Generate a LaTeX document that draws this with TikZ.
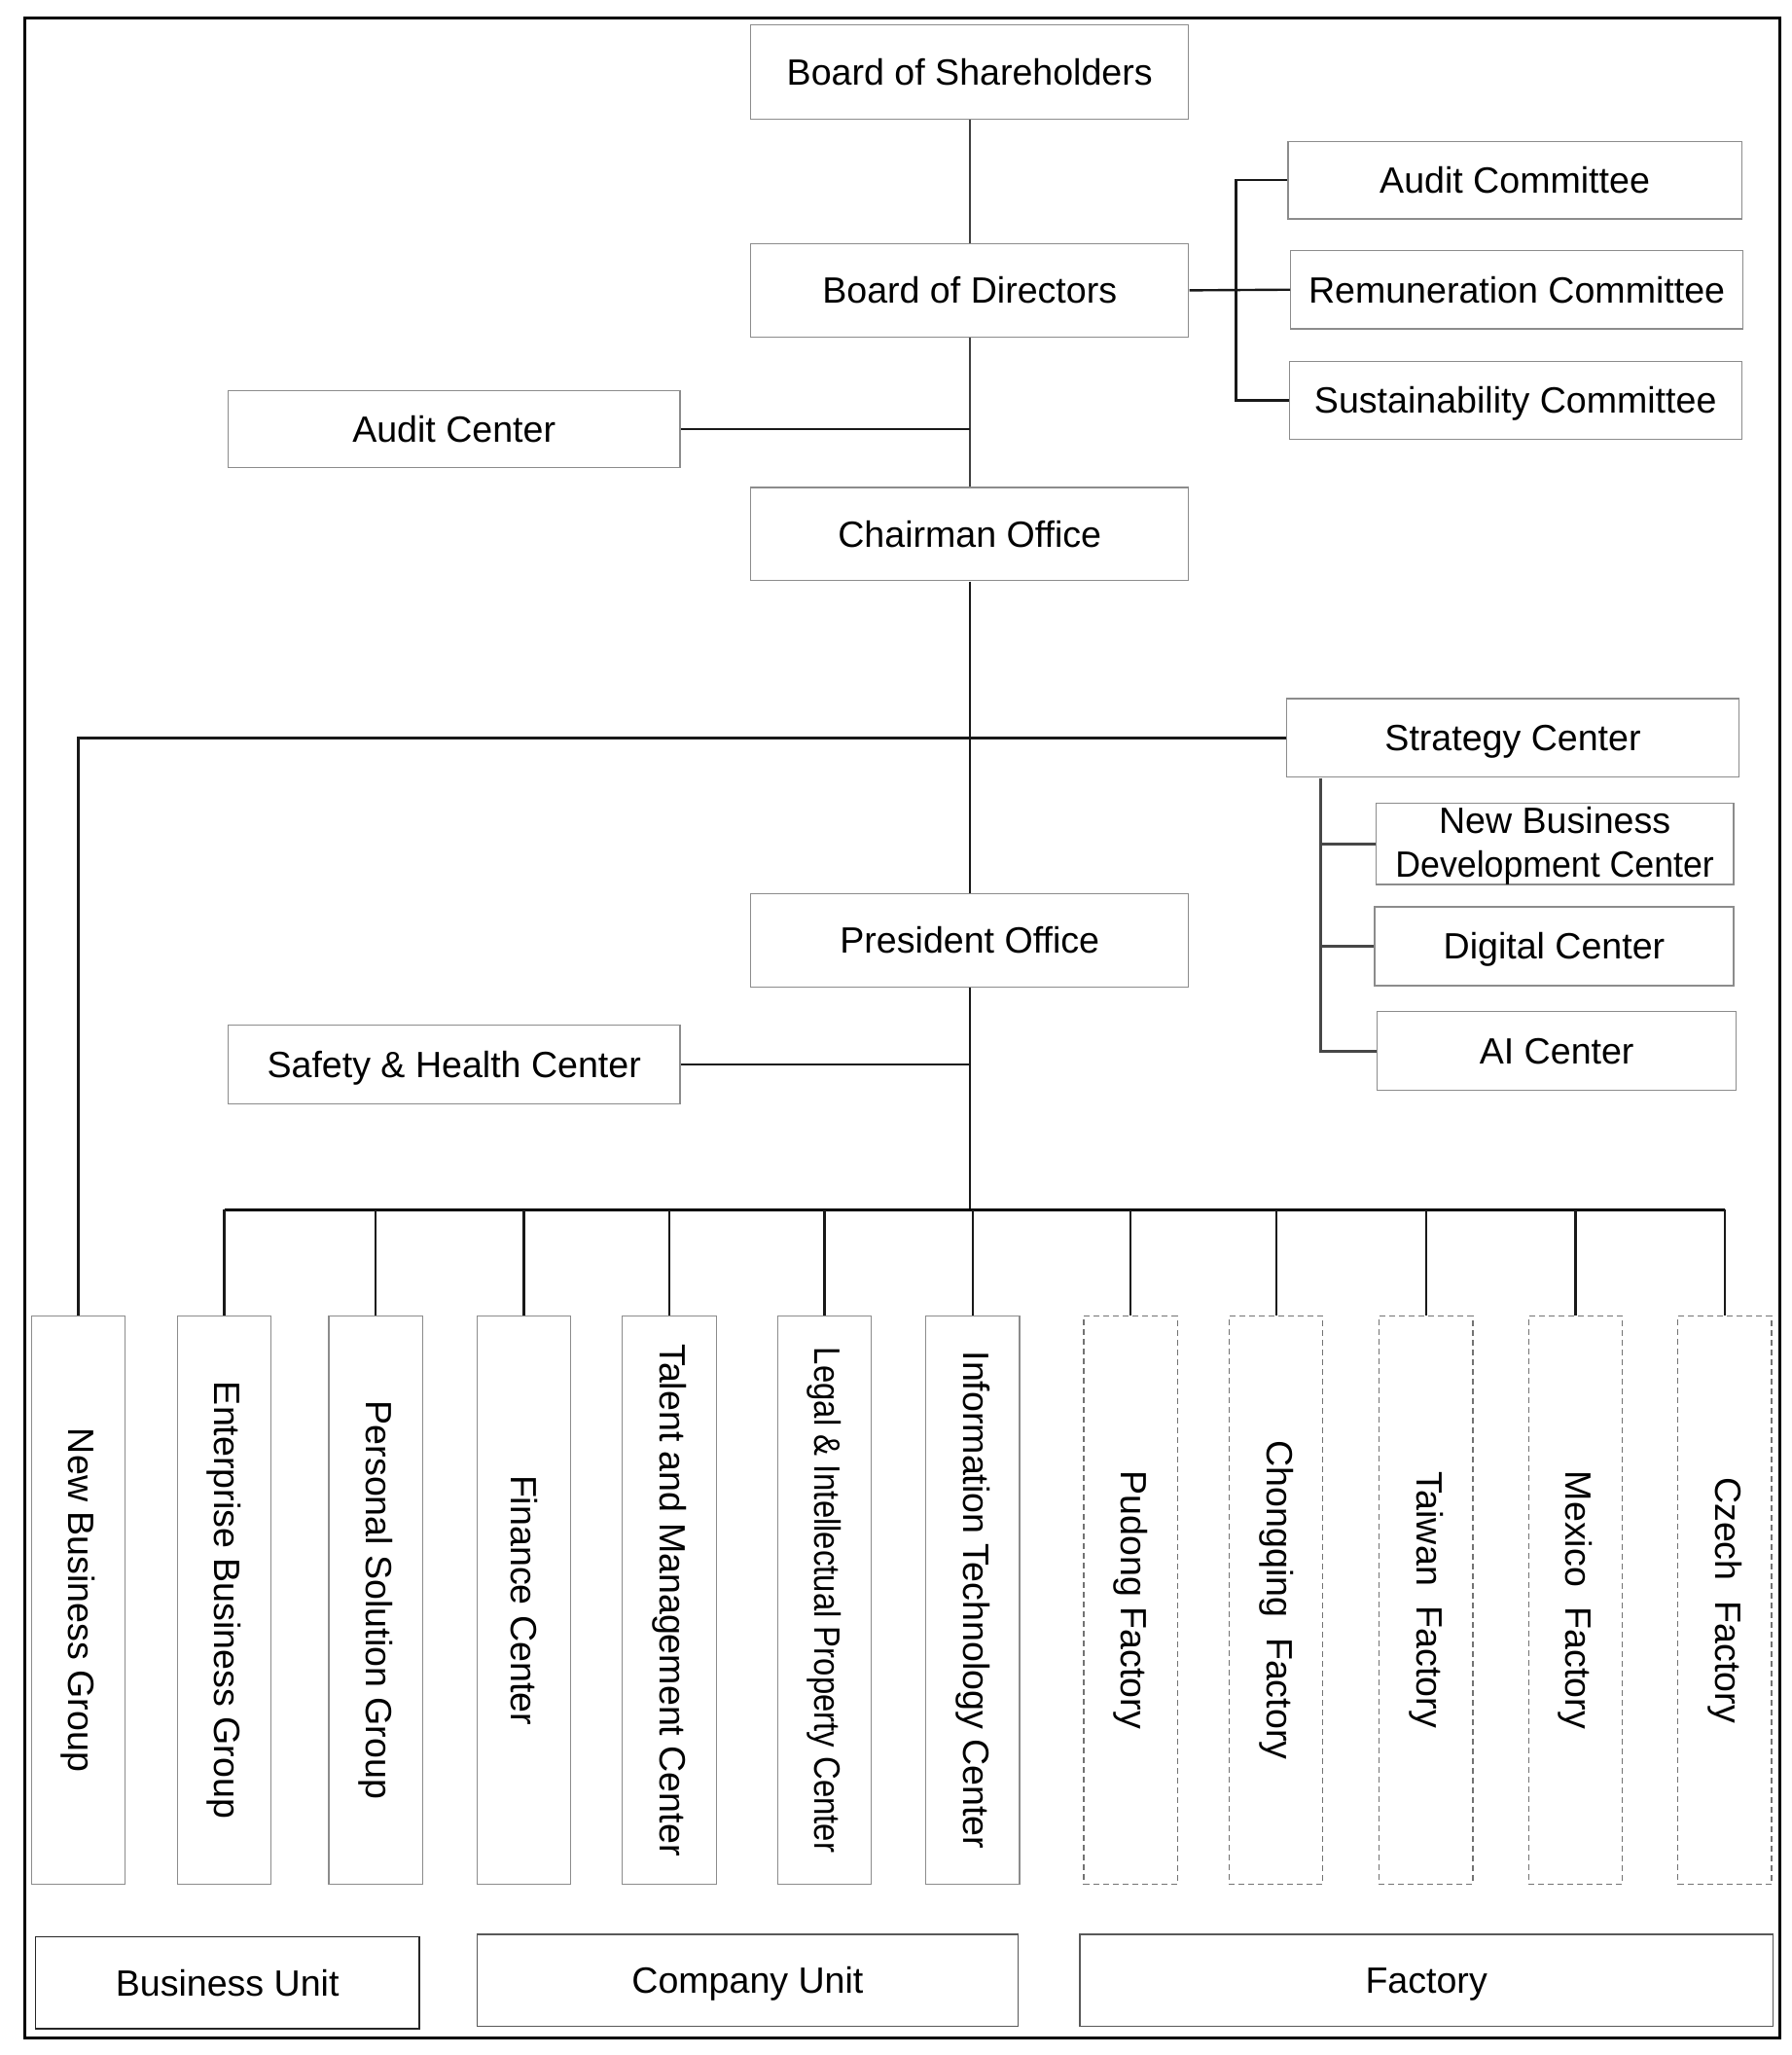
\documentclass[tikz,border=0pt]{standalone}
\usepackage{fontspec}
\setmainfont{Liberation Sans}
\begin{document}
\begin{tikzpicture}[x=1pt,y=-1pt,scale=1.347,transform shape,
  every node/.style={font=\fontsize{27.9pt}{33pt}\selectfont, inner sep=0pt, text=black},
  hbox/.style={draw=black!45, line width=1.2pt, fill=white, align=center, text height=20pt, text depth=0pt},
  vbox/.style={draw=black!45, line width=1.2pt, fill=white, minimum width=71.5pt, minimum height=433.5pt},
  fbox/.style={draw=black!55, line width=1.2pt, dash pattern=on 6pt off 4pt, fill=white, minimum width=71.5pt, minimum height=433.5pt},
  lbox/.style={draw=black!65, line width=1.3pt, fill=white, minimum height=70pt, text height=20pt, text depth=0pt},
  vtext/.style={rotate=-90, anchor=center},
  conn/.style={line width=2.4pt, draw=black!90},
  trunk/.style={line width=2.2pt, draw=black!75},
  subconn/.style={line width=3pt, draw=black!72}]
\useasboundingbox (0,0) rectangle (1367.5,1568);
\draw[line width=3.2pt] (19,14) rectangle (1358,1555);

% top column
\node[hbox, minimum width=334pt, minimum height=72pt] (bos) at (740,55) {Board of Shareholders};
\node[hbox, minimum width=334pt, minimum height=71pt] (bod) at (740,221.5) {Board of Directors};
\node[hbox, minimum width=346pt, minimum height=59pt] (ac) at (1156,137.5) {Audit Committee};
\node[hbox, minimum width=345pt, minimum height=60pt] (rc) at (1157.5,221) {Remuneration Committee};
\node[hbox, minimum width=345pt, minimum height=59pt] (sc) at (1156.5,305.5) {Sustainability Committee};
\node[hbox, minimum width=345pt, minimum height=59pt] (auc) at (346.5,327.5) {Audit Center};
\node[hbox, minimum width=334pt, minimum height=71pt] (cho) at (740,407.5) {Chairman Office};
\node[hbox, minimum width=345pt, minimum height=60pt] (stc) at (1154.5,563) {Strategy Center};
\node[hbox, text height=, text depth=, minimum width=273pt, minimum height=60pt] (nbdc) at (1186.5,644) {\rule{0pt}{23pt}New Business\\\scalebox{0.95}[1]{Development Center}};
\node[hbox, minimum width=274pt, minimum height=60pt] (dig) at (1186,722) {Digital Center};
\node[hbox, minimum width=274pt, minimum height=60pt] (ai) at (1188,802) {AI Center};
\node[hbox, minimum width=334pt, minimum height=71pt] (pre) at (740,717.5) {President Office};
\node[hbox, minimum width=345pt, minimum height=60pt] (saf) at (346.5,812) {Safety \& Health Center};

% vertical units
\node[vbox, label={[vtext]center:New Business Group}] (nbg) at (59.75,1220.75) {};
\node[vbox, label={[vtext]center:Enterprise Business Group}] (ebg) at (171.25,1220.75) {};
\node[vbox, label={[vtext]center:Personal Solution Group}] (psg) at (286.75,1220.75) {};
\node[vbox, label={[vtext]center:Finance Center}] (fin) at (399.75,1220.75) {};
\node[vbox, label={[vtext]center:Talent and Management Center}] (tmc) at (510.75,1220.75) {};
\node[vbox, label={[vtext]center:\scalebox{0.875}[1]{Legal \& Intellectual Property Center}}] (lip) at (629.25,1220.75) {};
\node[vbox, label={[vtext]center:Information Technology Center}] (itc) at (742.25,1220.75) {};
\node[fbox, label={[vtext]center:Pudong Factory}] (pud) at (862.75,1220.75) {};
\node[fbox, label={[vtext]center:Chongqing\ \ Factory}] (chq) at (973.75,1220.75) {};
\node[fbox, label={[vtext]center:Taiwan\ \ Factory}] (tw) at (1088.25,1220.75) {};
\node[fbox, label={[vtext]center:Mexico\ \ Factory}] (mex) at (1202.25,1220.75) {};
\node[fbox, label={[vtext]center:Czech\ \ Factory}] (cz) at (1316.25,1220.75) {};

% legend
\node[lbox, draw=black!85, minimum width=293pt] (bu) at (173.5,1513) {Business Unit};
\node[lbox, minimum width=413pt] (cu) at (570.5,1511) {Company Unit};
\node[lbox, minimum width=529pt] (fac) at (1088.5,1511) {Factory};

% connectors
\coordinate (cj) at (943,221.5);
\coordinate (bus) at (740,923);
\coordinate (sj) at (1008,593);

\draw[trunk] (bos.south) -- (bod.north);
\draw[trunk] (bod.south) -- (cho.north);
\draw[conn] (cho.south) -- (pre.north);
\draw[conn] (pre.south) -- (pre.south |- bus);

\draw[conn] (bod.east) -- (rc.west);
\draw[conn] (ac.west) -- (ac.west -| cj) -- (sc.west -| cj) -- (sc.west);

\draw[conn] (auc.east) -- (auc.east -| bod.south);
\draw[conn] (saf.east) -- (saf.east -| pre.south);

\draw[conn] (nbg.north) |- (stc.west);
\draw[subconn] (stc.south -| sj) -- (ai.west -| sj) -- (ai.west);
\draw[subconn] (nbdc.west -| sj) -- (nbdc.west);
\draw[subconn] (dig.west -| sj) -- (dig.west);

\draw[line width=2.8pt] (ebg.north |- bus) -- (cz.north |- bus);
\foreach \n in {ebg,psg,fin,tmc,lip,itc,pud,chq,tw,mex,cz}
  \draw[conn] (\n.north) -- (\n.north |- bus);
\end{tikzpicture}
\end{document}
